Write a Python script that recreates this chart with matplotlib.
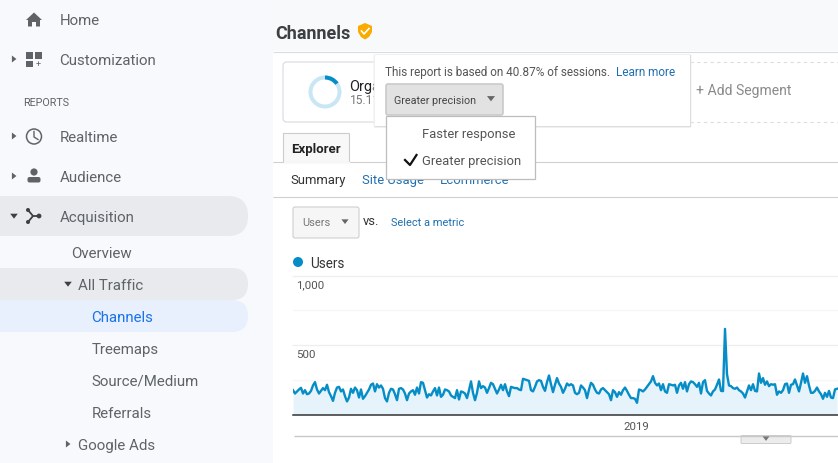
import numpy as np
import matplotlib
matplotlib.use('Agg')
import matplotlib.pyplot as plt
from matplotlib.patches import Rectangle, FancyBboxPatch, Circle, Wedge, Polygon

plt.rcParams['font.family'] = ['Roboto', 'DejaVu Sans']

# daily users
users_a = [175, 151, 166, 180, 192, 151, 175, 146, 151, 170, 209, 233, 180, 151, 170, 190, 175, 214, 161, 132,
           98, 156, 194, 199, 166, 180, 132, 94, 122, 185, 156, 194, 175, 122, 180, 113, 132, 156, 180, 214,
           223, 166, 218, 194, 209, 185, 118, 94, 156, 185, 180, 146, 103, 185, 190, 180, 151, 103, 151, 166,
           175, 142, 194, 151, 233, 228, 175, 122, 146]
users_b = [137, 166, 190, 137, 194, 127, 142, 180, 175, 166, 137, 127, 118, 175, 108, 166, 161, 151, 118, 175,
           238, 156, 103, 156, 238, 190, 204, 194, 156, 190, 228, 218, 185, 151, 180, 214, 175, 218, 166, 132,
           199, 194, 190, 190, 180, 175, 257, 252, 247, 242, 175, 166, 199, 238, 247, 242, 199, 170, 233, 281,
           218, 161, 214, 262, 223, 199, 156, 185, 223, 209]
users_c = [218, 209, 156, 146, 156, 209, 194, 175, 118, 180, 228, 214, 180, 156, 151, 180, 190, 175, 161, 146,
           103, 175, 161, 127, 161, 142, 175, 194, 170, 142, 118, 118, 113, 84, 180, 175, 166, 180, 199, 218,
           238, 276, 228, 209, 223, 175, 218, 166, 156, 218, 214, 209, 214, 156, 209, 228, 185, 233, 166, 218,
           238, 233, 218, 199, 228, 151, 233, 247, 170, 151]
users_d = [137, 166, 180, 214, 252, 170, 168, 616, 290, 209, 204, 190, 185, 194, 175, 166, 151, 122, 166, 209,
           175, 218, 170, 166, 295, 228, 262, 214, 238, 204, 218, 214, 218, 142, 166, 156, 175, 218, 223, 156,
           214, 218, 252, 209, 166, 228, 295, 228, 276, 209, 156, 156, 170, 194, 166, 146, 113, 156, 127, 170,
           122, 118, 180, 185]
users = users_a + users_b + users_c + users_d

y_ticks = [250, 500, 750, 1000]
y_labels = {500: '500', 1000: '1,000'}
year_label = '2019'
year_pos = 171.5

nav_main = ['Home', 'Customization', 'Realtime', 'Audience', 'Acquisition']
nav_sub = ['Overview', 'All Traffic', 'Channels', 'Treemaps', 'Source/Medium', 'Referrals', 'Google Ads']

W, H = 838, 464
GREY = '#5f6368'
DARK = '#3c4043'
BLUE = '#1f6fb0'

fig = plt.figure(figsize=(W / 100, H / 100), dpi=100, facecolor='white')

# page chrome drawn in pixel coordinates
bg = fig.add_axes([0, 0, 1, 1])
bg.set_xlim(0, W)
bg.set_ylim(H, 0)
bg.axis('off')


def px(size):
    return size * 0.72


def label(x, y, s, size=14, color=GREY, weight='normal', z=5, ha='left'):
    # +1: centre of the text box sits a bit above the x-height centre
    bg.text(x - 0.5, y + 1, s, fontsize=px(size), color=color, fontweight=weight, va='center', ha=ha, zorder=z)


def box(x0, y0, x1, y1, fc='white', ec='none', lw=1, r=0, z=2):
    if r:
        p = FancyBboxPatch((x0 + r, y0 + r), x1 - x0 - 2 * r, y1 - y0 - 2 * r, boxstyle=f'round,pad={r},rounding_size={r}',
                           fc=fc, ec=ec, lw=lw, zorder=z)
    else:
        p = Rectangle((x0, y0), x1 - x0, y1 - y0, fc=fc, ec=ec, lw=lw, zorder=z)
    bg.add_patch(p)


def tri(x, y, down=True, size=3.5, color=GREY, z=5):
    if down:
        pts = [(x - size, y - size * 0.6), (x + size, y - size * 0.6), (x, y + size * 0.7)]
    else:
        pts = [(x - size * 0.6, y - size), (x - size * 0.6, y + size), (x + size * 0.7, y)]
    bg.add_patch(Polygon(pts, fc=color, ec='none', zorder=z))


def hline(y, x0, x1, color='#cfcfcf', lw=0.8, z=3):
    bg.plot([x0, x1], [y, y], color=color, lw=lw, zorder=z, solid_capstyle='butt')


# sidebar
box(0, 0, 273, H, fc='#f8f9fc', z=1)
box(-30, 197, 248, 237, fc='#e8eaed', r=20)
box(-30, 269, 248, 301, fc='#e8eaed', r=16)
box(-30, 301, 248, 333, fc='#e8f0fe', r=16)

for s, y in zip(nav_main, [20, 60, 137, 177, 217]):
    label(60, y, s, size=15)
label(24, 102, 'REPORTS', size=10.8)
for s, x, y in zip(nav_sub, [72, 78, 92, 92, 92, 92, 78], [253, 285, 317, 349, 381, 413, 445]):
    label(x, y, s, size=15, color='#1a73e8' if s == 'Channels' else GREY)

for y in [60, 137, 177]:
    tri(14, y, down=False, size=3.5)
tri(14, 217, size=3.8, color=DARK)
tri(68, 285, size=3.8, color=DARK)
tri(68, 445, down=False, size=3.5)

# sidebar icons
bg.add_patch(Polygon([(26, 21), (34, 13.5), (42, 21), (40, 21), (40, 27.5), (36, 27.5), (36, 23), (32, 23), (32, 27.5), (28, 27.5), (28, 21)],
                     fc=GREY, ec='none', zorder=5))
box(26, 52.5, 33, 59.5, fc=GREY, z=5)
box(35, 52.5, 42, 59.5, fc=GREY, z=5)
box(26, 61.5, 33, 68, fc=GREY, z=5)
label(38.5, 64, '+', size=9, ha='center')
bg.add_patch(Circle((34, 137.5), 7.5, fc='none', ec=GREY, lw=1.1, zorder=5))
bg.plot([34, 34, 38], [132.5, 138, 140.5], color=GREY, lw=1, zorder=5)
bg.add_patch(Circle((34, 173), 3.6, fc=GREY, ec='none', zorder=5))
bg.add_patch(FancyBboxPatch((29.5, 180), 9, 1.5, boxstyle='round,pad=2,rounding_size=2', fc=GREY, ec='none', zorder=5))
bg.plot([28, 33, 28], [211, 217, 223], color=DARK, lw=1.3, zorder=5)
bg.plot([33, 39], [217, 217], color=DARK, lw=1.3, zorder=5)
for cx, cy, r in [(28, 211, 2), (28, 223, 2), (39, 217, 2.4)]:
    bg.add_patch(Circle((cx, cy), r, fc=DARK, ec='none', zorder=5))

# header
box(273, 0, W, 52, fc='#f8f9fb', z=1)
hline(52.5, 273, W, color='#dadce0')
label(276, 33, 'Channels', size=18, color='#3c4043', weight='bold')
bg.add_patch(Polygon([(365, 24), (372, 27), (372, 33), (369, 38), (365, 40.5), (361, 38), (358, 33), (358, 27)],
                     fc='#f9ab00', ec='none', zorder=5))
bg.plot([361.5, 364, 369], [32, 35, 29.5], color='white', lw=1.2, zorder=6)

# segment row
box(283, 63, 400, 123, ec='#dfe1e5', r=4)
# y axis is flipped here, so angles run clockwise from the right
bg.add_patch(Wedge((325, 93), 16.5, 0, 360, width=4, fc='#c9e6f5', ec='none', zorder=3))
bg.add_patch(Wedge((325, 93), 16.5, 270, 325, width=4, fc='#058dc7', ec='none', zorder=4))
label(350, 85.5, 'Orga', size=14.5, color='#202124')
label(350, 99, '15.11', size=12, color='#777777')
bg.plot([690, W], [63, 63], color='#dddddd', lw=0.8, ls=(0, (3, 3)), zorder=2)
bg.plot([690, W], [123, 123], color='#dddddd', lw=0.8, ls=(0, (3, 3)), zorder=2)
label(696, 89.5, '+ Add Segment', size=14, color='#8a8a8a')

# popup over the segment row, soft shadow first
box(373.5, 55, 691.5, 129, fc='#f0f0f0', r=2, z=6)
box(374.5, 55.5, 690.5, 128, fc='#dddddd', z=6)
box(375, 56, 690, 127, fc='white', z=7)
label(385, 71.5, 'This report is based on 40.87% of sessions.', size=11.8, color='#555555', z=8)
label(616, 71.5, 'Learn more', size=11.8, color=BLUE, z=8)
box(386, 85, 503, 116, fc='#e2e2e2', ec='#cacaca', lw=1.2, r=2, z=8)
label(394, 99.5, 'Greater precision', size=10.8, color='#444444', z=9)
tri(491, 99.5, size=4, color='#666666', z=9)

# dropdown menu
box(386, 116.5, 535, 180, ec='#bdbdbd', lw=0.9, z=10)
label(422, 134, 'Faster response', size=13, color='#555555', z=11)
label(422, 161, 'Greater precision', size=13, color='#555555', z=11)
bg.plot([405, 410, 416.5], [161, 166, 156], color='#111111', lw=1.6, zorder=11)

# tabs
hline(162.5, 273, W)
box(283, 134, 349, 163, fc='#f8f8f8', ec='#cccccc', lw=0.8, z=4)
bg.plot([283.5, 348.5], [162.5, 162.5], color='#f8f8f8', lw=1, zorder=5)
label(292, 148.5, 'Explorer', size=13.2, color='#222222', weight='bold')
label(291, 179.5, 'Summary', size=13, color='#333333')
label(362, 179.5, 'Site Usage', size=13, color=BLUE)
label(440, 179.5, 'Ecommerce', size=13, color=BLUE)
hline(197.5, 273, W)

# metric pickers
box(293, 208, 359, 239, fc='#f6f6f6', ec='#cfcfcf', lw=0.8, r=2)
label(303, 222.5, 'Users', size=11, color='#777777')
tri(345, 222.5, size=3.6, color='#666666')
label(363, 221, 'vs.', size=13, color='#333333')
label(391, 222.5, 'Select a metric', size=11, color=BLUE)
bg.add_patch(Circle((298, 263), 5, fc='#058dc7', ec='none', zorder=5))
label(311, 263, 'Users', size=13.5, color='#333333')

# the users chart
ax = fig.add_axes([293 / W, 1 - 415.5 / H, (W - 293) / W, 139 / H], facecolor='none', zorder=3)
x = np.arange(len(users))
ax.fill_between(x, users, 0, color='#e6f3fa', lw=0)
ax.plot(x, users, color='#058dc7', lw=1.7, solid_joinstyle='round')
ax.set_xlim(0, 272.5)
ax.set_ylim(0, 1000)
for s in ['top', 'left', 'right']:
    ax.spines[s].set_visible(False)
ax.spines['bottom'].set_color('#333333')
ax.spines['bottom'].set_linewidth(1.1)
ax.set_yticks(y_ticks)
ax.set_yticklabels([])
ax.tick_params(axis='y', length=0)
ax.grid(axis='y', color='#eeeeee', lw=0.9, clip_on=False)
ax.get_ygridlines()[0].set_color('#f6f6f6')
ax.get_ygridlines()[2].set_color('#f6f6f6')
ax.set_axisbelow(True)
for v, s in y_labels.items():
    ax.annotate(s, (0, v), xytext=(3, -9), textcoords='offset pixels', fontsize=px(11.5), color='#555555',
                va='center', ha='left', annotation_clip=False)
ax.set_xticks([year_pos])
ax.set_xticklabels([year_label], fontsize=px(11.5), color='#555555')
ax.tick_params(axis='x', length=0, pad=4.5)

# range bar below the chart
hline(436.5, 294, W, color='#c8c8c8', lw=1)
box(741, 436.5, 791, 444.5, fc='#ececec', ec='#cccccc', lw=0.7, r=1)
tri(766, 439.5, size=3.4, color='#777777')

fig.savefig('out.png', dpi=100, facecolor='white')
